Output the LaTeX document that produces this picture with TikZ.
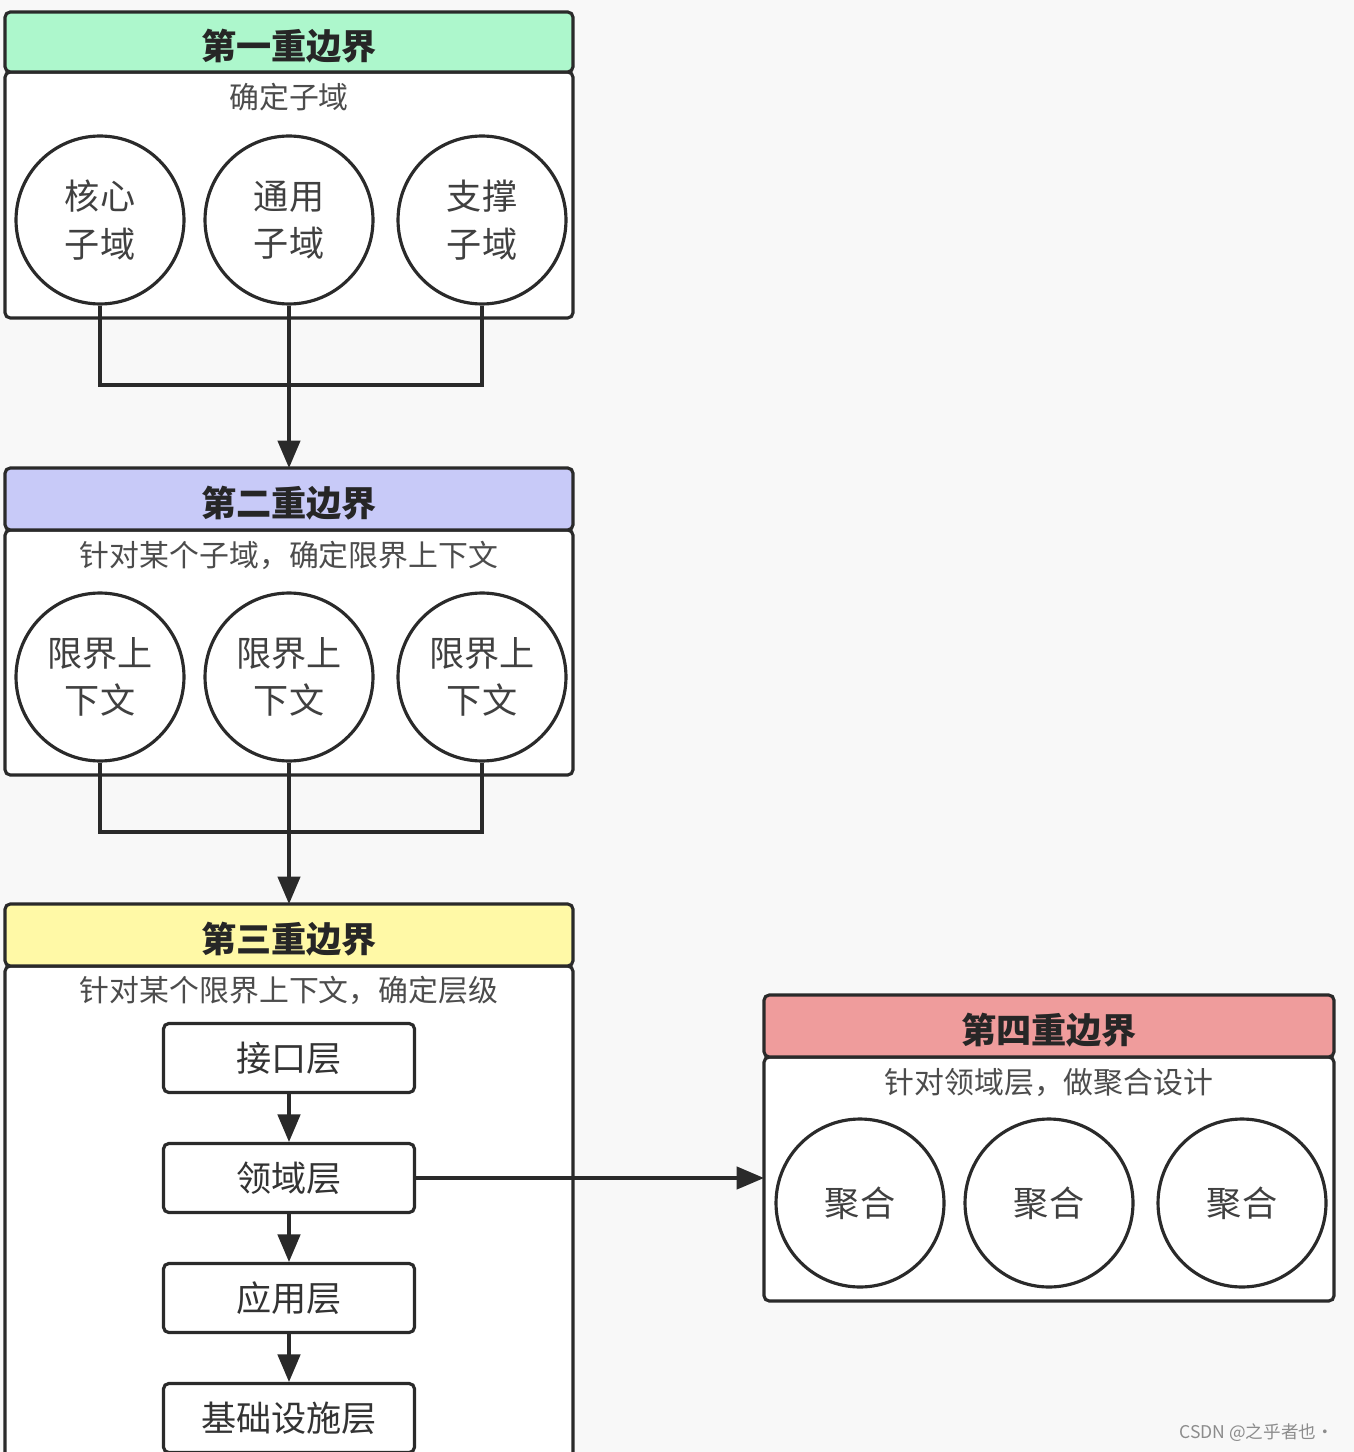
\documentclass[tikz,border=0pt]{standalone}
\usepackage{fontspec}
\setmainfont{Noto Sans CJK SC}
\usetikzlibrary{positioning,arrows.meta}
\definecolor{bggray}{HTML}{F8F8F8}
\definecolor{hdgreen}{HTML}{ADF7CC}
\definecolor{hdblue}{HTML}{C8CAF8}
\definecolor{hdyellow}{HTML}{FFF9A6}
\definecolor{hdred}{HTML}{EF9C9C}
\definecolor{linegray}{HTML}{2A2A2A}
\tikzset{
  hd/.style={draw=linegray, line width=1.8pt, rounded corners=3pt},
  hdtext/.style={font=\bfseries\fontsize{20}{22}\selectfont, text=black!85},
  bd/.style={draw=linegray, line width=1.8pt, rounded corners=3pt, fill=white},
  sub/.style={font=\fontsize{17}{18}\selectfont, text=black!70},
  ring/.style={circle, draw=linegray, line width=1.8pt, fill=white, minimum size=3.36cm, inner sep=0pt, align=center, font=\fontsize{20}{27}\selectfont, text=black!75},
  layer/.style={draw=linegray, line width=1.8pt, rounded corners=3pt, fill=white, minimum width=5.02cm, minimum height=1.38cm, font=\fontsize{20}{22}\selectfont, text=black!80},
  conn/.style={draw=linegray, line width=1.8pt},
  arr/.style={conn, -{Triangle[length=0.55cm,width=0.45cm]}}
}
\begin{document}
\begin{tikzpicture}[x=0.02cm, y=-0.02cm]
\fill[bggray] (0,0) rectangle (1354,1452);
\useasboundingbox (0,0) rectangle (1354,1452);
% first boundary
\draw[bd] (5,72) rectangle (573,318);
\draw[hd, fill=hdgreen] (5,12) rectangle (573,72);
\node[hdtext] (h1) at (289,46) {第一重边界};
\node[sub] (s1) at (289,97) {确定子域};
\node[ring] (c11) at (100,220) {核心\\子域};
\node[ring] (c12) at (289,220) {通用\\子域};
\node[ring] (c13) at (482,220) {支撑\\子域};
% second boundary
\draw[bd] (5,530) rectangle (573,775);
\draw[hd, fill=hdblue] (5,468) rectangle (573,530);
\node[hdtext] (h2) at (289,503) {第二重边界};
\node[sub] (s2) at (289,555) {针对某个子域，确定限界上下文};
\node[ring] (c21) at (100,677) {限界上\\下文};
\node[ring] (c22) at (289,677) {限界上\\下文};
\node[ring] (c23) at (482,677) {限界上\\下文};
% third boundary
\draw[bd] (5,966) rectangle (573,1475);
\draw[hd, fill=hdyellow] (5,904) rectangle (573,966);
\node[hdtext] (h3) at (289,939) {第三重边界};
\node[sub] (s3) at (289,990) {针对某个限界上下文，确定层级};
\node[layer] (l1) at (289,1058) {接口层};
\node[layer] (l2) at (289,1178) {领域层};
\node[layer] (l3) at (289,1298) {应用层};
\node[layer] (l4) at (289,1418) {基础设施层};
% fourth boundary
\draw[bd] (764,1057) rectangle (1334,1301);
\draw[hd, fill=hdred] (764,995) rectangle (1334,1057);
\node[hdtext] (h4) at (1049,1030) {第四重边界};
\node[sub] (s4) at (1049,1082) {针对领域层，做聚合设计};
\node[ring] (c41) at (860,1203) {聚合};
\node[ring] (c42) at (1049,1203) {聚合};
\node[ring] (c43) at (1242,1203) {聚合};
% connectors
\coordinate (j1) at (289,385);
\coordinate (t2) at (289,468);
\draw[conn] (c11.south) -- (c11.south |- j1) -- (c13.south |- j1) -- (c13.south);
\draw[arr] (c12.south) -- (t2);
\coordinate (j2) at (289,832);
\coordinate (t3) at (289,904);
\draw[conn] (c21.south) -- (c21.south |- j2) -- (c23.south |- j2) -- (c23.south);
\draw[arr] (c22.south) -- (t3);
\draw[arr] (l1) -- (l2);
\draw[arr] (l2) -- (l3);
\draw[arr] (l3) -- (l4);
\coordinate (t4) at (764,1178);
\draw[arr] (l2.east) -- (t4);
\node[anchor=east, text=black!45, font=\fontsize{10}{12}\selectfont] (wm) at (1340,1433) {CSDN @之乎者也·};
\end{tikzpicture}
\end{document}
